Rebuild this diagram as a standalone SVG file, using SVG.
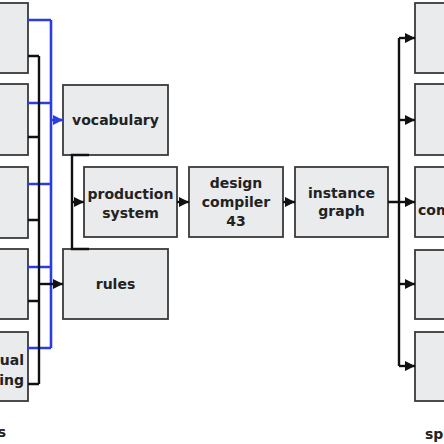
<svg xmlns="http://www.w3.org/2000/svg" width="444" height="444" viewBox="0 0 444 444">
<style>
.box{fill:#e9ebec;stroke:#3a3a3a;stroke-width:1.8}
.t{font-family:"DejaVu Sans",Verdana,sans-serif;font-weight:bold;font-size:14px;fill:#222;text-anchor:middle}
.te{font-family:"DejaVu Sans",Verdana,sans-serif;font-weight:bold;font-size:14px;fill:#222;text-anchor:end}
.ts{font-family:"DejaVu Sans",Verdana,sans-serif;font-weight:bold;font-size:14px;fill:#222;text-anchor:start}
.k{fill:none;stroke:#111;stroke-width:2.4}
.b{fill:none;stroke:#2b3de0;stroke-width:2.6}
</style>
<defs>
<marker id="ak" markerUnits="userSpaceOnUse" markerWidth="12" markerHeight="12" refX="10" refY="5" orient="auto"><path d="M0,0 L10,5 L0,10 z" fill="#111"/></marker>
<marker id="ab" markerUnits="userSpaceOnUse" markerWidth="12" markerHeight="12" refX="10" refY="5" orient="auto"><path d="M0,0 L10,5 L0,10 z" fill="#2b3de0"/></marker>
</defs>
<rect width="444" height="444" fill="#fff"/>
<g id="in1"><rect class="box" x="-30" y="3" width="58" height="70"/></g>
<g id="in2"><rect class="box" x="-30" y="84" width="58" height="71"/></g>
<g id="in3"><rect class="box" x="-30" y="167" width="58" height="71"/></g>
<g id="in4"><rect class="box" x="-30" y="249" width="58" height="70"/></g>
<g id="in5"><rect class="box" x="-30" y="332" width="58" height="69"/><text class="te" x="24" y="365">ual</text><text class="te" x="24" y="385">ing</text></g>
<g id="vocabulary"><rect class="box" x="63" y="85" width="105" height="70"/><text class="t" x="115.5" y="125">vocabulary</text></g>
<g id="rules"><rect class="box" x="63" y="249" width="105" height="70"/><text class="t" x="115.5" y="289">rules</text></g>
<g id="production"><rect class="box" x="84" y="167" width="93" height="70"/><text class="t" x="130.5" y="199">production</text><text class="t" x="130.5" y="218">system</text></g>
<g id="compiler"><rect class="box" x="189" y="167" width="94" height="70"/><text class="t" x="236" y="188">design</text><text class="t" x="236" y="207">compiler</text><text class="t" x="236" y="226">43</text></g>
<g id="instance"><rect class="box" x="295" y="167" width="93" height="70"/><text class="t" x="341.5" y="198">instance</text><text class="t" x="341.5" y="216">graph</text></g>
<g id="out1"><rect class="box" x="415" y="3" width="60" height="70"/></g>
<g id="out2"><rect class="box" x="415" y="84" width="60" height="71"/></g>
<g id="out3"><rect class="box" x="415" y="167" width="60" height="70"/><text class="ts" x="418" y="215">com</text></g>
<g id="out4"><rect class="box" x="415" y="250" width="60" height="69"/></g>
<g id="out5"><rect class="box" x="415" y="332" width="60" height="69"/></g>
<g id="connectors">
<path class="b" d="M28,20 H51 M28,103 H51 M28,184 H51 M28,267 H51 M28,348 H51 M51,20 V348"/>
<path class="b" d="M51,120 H63" marker-end="url(#ab)"/>
<path class="k" d="M28,56 H39 M28,137 H39 M28,220 H39 M28,301 H39 M28,384 H39 M39,56 V384"/>
<path class="k" d="M39,284 H63" marker-end="url(#ak)"/>
<path class="k" d="M89,155 H72 V249 H89"/>
<path class="k" d="M72,202 H84" marker-end="url(#ak)"/>
<path class="k" d="M177,202 H189" marker-end="url(#ak)"/>
<path class="k" d="M283,202 H295" marker-end="url(#ak)"/>
<path class="k" d="M388,202 H399 M399,38 V366"/>
<path class="k" d="M399,38 H415" marker-end="url(#ak)"/>
<path class="k" d="M399,120 H415" marker-end="url(#ak)"/>
<path class="k" d="M399,202 H415" marker-end="url(#ak)"/>
<path class="k" d="M399,284 H415" marker-end="url(#ak)"/>
<path class="k" d="M399,366 H415" marker-end="url(#ak)"/>
</g>
<text class="te" x="6" y="437">s</text>
<text class="ts" x="425" y="439">sp</text>
</svg>
